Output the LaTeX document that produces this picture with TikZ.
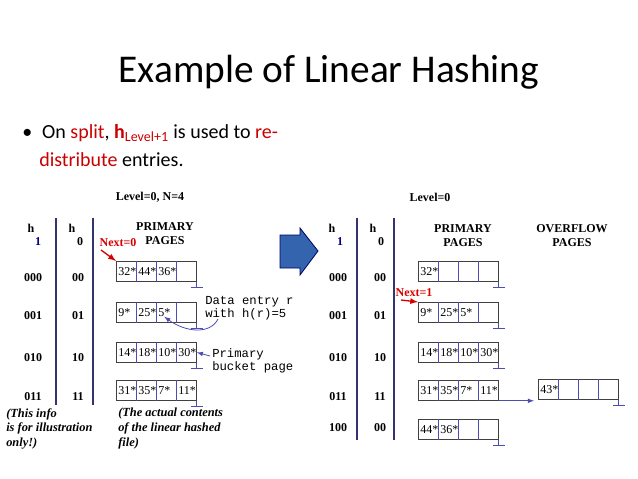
\documentclass[tikz,border=0pt]{standalone}
\usepackage{fontspec}
\usetikzlibrary{calc}
\setmainfont{Liberation Serif}
\newfontfamily\calfnt{Carlito}
\setmonofont{Liberation Mono}
\begin{document}
\begin{tikzpicture}[x=0.75pt,y=-0.75pt,
  lbl/.style={font=\bfseries\fontsize{9}{10.5}\selectfont,inner sep=0pt},
  ent/.style={font=\fontsize{9}{10}\selectfont,inner sep=0pt,anchor=west},
  mono/.style={font=\ttfamily\fontsize{9.2}{9.5}\selectfont,inner sep=0pt,anchor=west,align=left},
  note/.style={font=\bfseries\itshape\fontsize{9.3}{11}\selectfont,inner sep=0pt,anchor=north west,align=left},
  bx/.style={draw=black!75,line width=0.6pt,minimum width=60pt,minimum height=15pt,inner sep=0pt,anchor=north west},
  div/.style={draw=blue!40!gray,line width=0.5pt},
  vline/.style={draw=blue!30!black!80,line width=1.2pt},
  gnd/.style={draw=blue!40!gray,line width=0.6pt},
  nxt/.style={font=\bfseries\fontsize{9}{10}\selectfont,text=red!85!black,inner sep=0pt}]
\useasboundingbox (0,0) rectangle (638,478);
\newcommand\bucket[6]{%
  \node[bx] (#1) at (#2,#3) {};
  \foreach \k in {1,2,3} \draw[div] ($(#1.north west)+(20*\k,0)$) -- ($(#1.south west)+(20*\k,0)$);
  \node[ent] (#1a) at ($(#1.west)+(2,0)$) {#4};
  \node[ent] (#1b) at ($(#1.west)+(22,0)$) {#5};
  \node[ent] (#1c) at ($(#1.west)+(42,0)$) {#6};
}
\newcommand\gmark[1]{%
  \draw[gnd] (#1.south east) -- ++(0,6) coordinate (#1g);
  \draw[gnd] ($(#1g)+(-6,0)$) -- ($(#1g)+(6,0)$);
}
% title
\node[font=\calfnt\fontsize{29.5}{32}\selectfont,inner sep=0pt] (title) at (329,72) {Example of Linear Hashing};
\node[font=\calfnt\fontsize{15}{18}\selectfont,inner sep=0pt,anchor=west] (b1) at (22,133) {•\hspace{0.5em}On \textcolor{red!80!black}{split}, \textbf{\textcolor{red!80!black}{h}}\textsubscript{\textcolor{red!80!black}{Level+1}} is used to \textcolor{red!80!black}{re-}};
\node[font=\calfnt\fontsize{15}{18}\selectfont,inner sep=0pt,anchor=west] (b2) at (39,160) {\textcolor{red!80!black}{distribute} entries.};
% left
\node[lbl] (lev1) at (150,197) {Level=0, N=4};
\draw[vline] (56,218) coordinate (l1a) -- (56,405) coordinate (l1b);
\draw[vline] (93,218) coordinate (l2a) -- (93,405) coordinate (l2b);
\node[lbl] (hA) at (31,228) {h};\node[lbl,text=blue!50!black] (hA1) at (38,242) {1};
\node[lbl] (hB) at (72,228) {h};\node[lbl] (hB0) at (80,242) {0};
\node[lbl,align=center] (pp1) at (165,234) {PRIMARY\\PAGES};
\foreach \t/\u/\y in {000/00/278,001/01/316,010/10/358,011/11/397}{
  \node[lbl] at (33,\y) {\t}; \node[lbl] at (78,\y) {\u};}
\bucket{L1}{116}{261}{32*}{44*}{36*}\gmark{L1}
\bucket{L2}{116}{302}{9*}{25*}{5*}\gmark{L2}
\bucket{L3}{116}{342}{14*}{18*}{10*}\node[ent] (L3d) at ($(L3.west)+(62,0)$) {30*};\gmark{L3}
\bucket{L4}{116}{380}{31*}{35*}{7*}\node[ent] (L4d) at ($(L4.west)+(62,0)$) {11*};\gmark{L4}
\node[nxt] (n0) at (118,243) {Next=0};
\draw[red!85!black,line width=1pt,-latex] (101,250) -- (L1.north west);
\node[mono] (de) at (205,308) {Data entry r\\with h(r)=5};
\draw[blue!40!gray,line width=0.6pt,-latex] (218,319) .. controls (210,335) and (185,332) .. (L2c.south);
\node[mono] (pb) at (212,361) {Primary\\bucket page};
\draw[blue!40!gray,line width=0.6pt,-latex] (210,356) -- (L3.east);
\node[note] (nt1) at (6,408) {(This info\\is for illustration\\only!)};
\node[note] (nt2) at (118,408) {(The actual contents\\of the linear hashed\\file)};
% big arrow
\draw[fill=blue!60!cyan!60!black!80,draw=blue!40!black,line width=0.6pt] (280,235) -- (300,235) -- (300,228) -- (318,251) -- (300,275) -- (300,268) -- (280,268) -- cycle;
\node[inner sep=0pt] (big) at (299,251) {};
% right
\node[lbl] (lev2) at (430,197) {Level=0};
\draw[vline] (357,218) coordinate (r1a) -- (357,440) coordinate (r1b);
\draw[vline] (394,218) coordinate (r2a) -- (394,440) coordinate (r2b);
\node[lbl] (hC) at (332,228) {h};\node[lbl,text=blue!50!black] (hC1) at (340,242) {1};
\node[lbl] (hD) at (373,228) {h};\node[lbl] (hD0) at (381,242) {0};
\node[lbl,align=center] (pp2) at (463,236) {PRIMARY\\PAGES};
\node[lbl,align=center] (op) at (572,236) {OVERFLOW\\PAGES};
\foreach \t/\u/\y in {000/00/278,001/01/316,010/10/358,011/11/397,100/00/428}{
  \node[lbl] at (338,\y) {\t}; \node[lbl] at (380,\y) {\u};}
\bucket{R1}{418}{261}{32*}{}{}\gmark{R1}
\bucket{R2}{418}{302}{9*}{25*}{5*}\gmark{R2}
\bucket{R3}{418}{342}{14*}{18*}{10*}\node[ent] (R3d) at ($(R3.west)+(62,0)$) {30*};\gmark{R3}
\bucket{R4}{418}{380}{31*}{35*}{7*}\node[ent] (R4d) at ($(R4.west)+(62,0)$) {11*};
\bucket{R5}{418}{419}{44*}{36*}{}\gmark{R5}
\bucket{O1}{538}{379}{43*}{}{}\gmark{O1}
\draw[blue!40!gray,line width=0.6pt,-latex] (R4.south east) -- ($(O1.south west)+(-4,1)$);
\node[nxt] (n1) at (414,293) {Next=1};
\draw[red!85!black,line width=1pt,-latex] (401,300) -- (R2.north west);
\end{tikzpicture}
\end{document}
